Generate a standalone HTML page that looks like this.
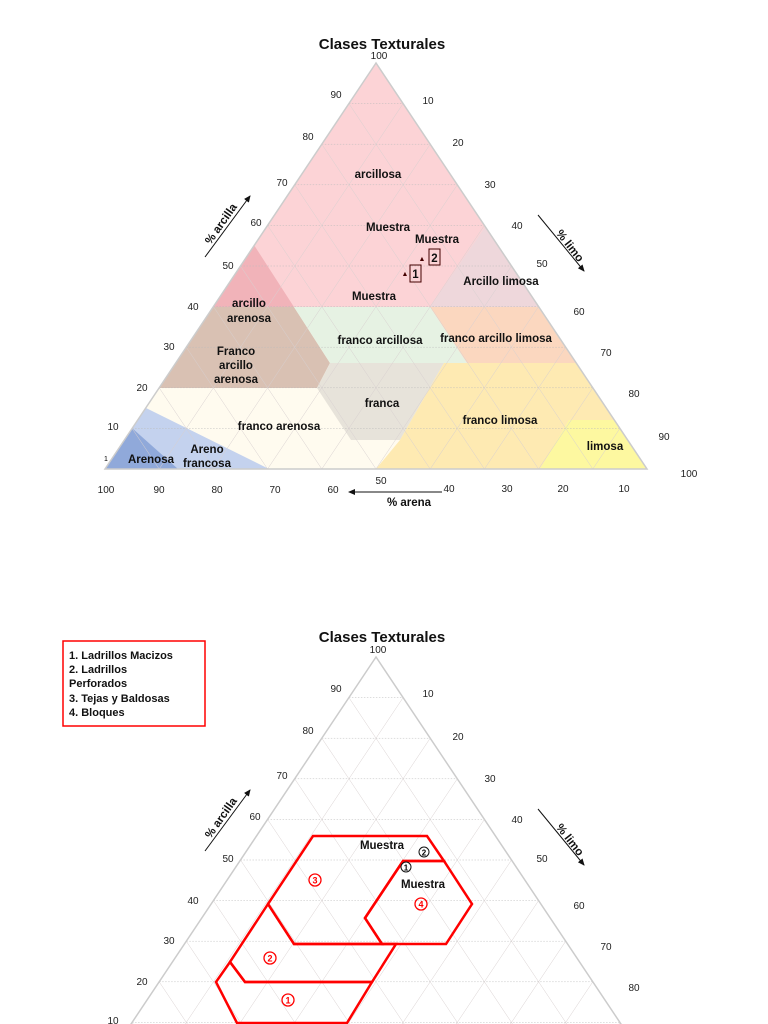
<!DOCTYPE html>
<html><head><meta charset="utf-8"><style>
html,body{margin:0;padding:0;background:#fff;width:768px;height:1024px;overflow:hidden}
svg{display:block}
text{font-family:"Liberation Sans",sans-serif}
.b{font-weight:bold;font-size:11.5px;fill:#111;text-anchor:middle}
.n{font-size:10px;fill:#222;text-anchor:middle}
.t{font-weight:bold;font-size:15px;fill:#111;text-anchor:middle}
.c{fill:none;stroke:#f00;stroke-width:1.3}
.cn{font-size:9px;fill:#f00;text-anchor:middle;font-weight:bold}
</style></head><body>
<svg width="768" height="1024" viewBox="0 0 768 1024" xmlns="http://www.w3.org/2000/svg">
<defs>
<marker id="ah" markerWidth="8" markerHeight="8" refX="6" refY="3" orient="auto"><path d="M0,0 L7,3 L0,6 z" fill="#111"/></marker>
<g id="grid" stroke="#bbb" stroke-width="0.5" fill="none">
<path stroke-dasharray="1.5,1.5" d="M132.1,428.4H619.9M159.2,387.8H592.8M186.3,347.2H565.7M213.4,306.6H538.6M240.5,266H511.5M267.6,225.4H484.4M294.7,184.8H457.3M321.8,144.2H430.2M348.9,103.6H403.1"/>
<path stroke="#d8d0d0" d="M159.2,469L132.1,428.4M213.4,469L159.2,387.8M267.6,469L186.3,347.2M321.8,469L213.4,306.6M376,469L240.5,266M430.2,469L267.6,225.4M484.4,469L294.7,184.8M538.6,469L321.8,144.2M592.8,469L348.9,103.6
M159.2,469L403.1,103.6M213.4,469L430.2,144.2M267.6,469L457.3,184.8M321.8,469L484.4,225.4M376,469L511.5,266M430.2,469L538.6,306.6M484.4,469L565.7,347.2M538.6,469L592.8,387.8M592.8,469L619.9,428.4"/>
</g>
</defs>

<!-- TOP DIAGRAM -->
<text x="382" y="49" class="t">Clases Texturales</text>
<polygon points="376,63 105,469 647,469" fill="#fffbef"/>
<polygon points="376,63 538,307 213,307" fill="#fcd3d6"/>
<polygon points="485,227 538,307 430,307" fill="#eed7db"/>
<polygon points="254,245 294,307 213,307" fill="#f1b3b9"/>
<polygon points="213,307 294,307 330,363 317,388 159,388" fill="#d9c1b3"/>
<polygon points="294,307 430,307 467,363 330,363" fill="#e6f2e3"/>
<polygon points="430,307 538,307 576,363 467,363" fill="#fbd7bf"/>
<polygon points="330,363 444,363 400,440 351,440 317,388" fill="#e7e3da"/>
<polygon points="444,363 576,363 647,469 376,469 400,440" fill="#feeab2"/>
<polygon points="569,420 615,420 647,469 540,469" fill="#fdf8a0"/>
<polygon points="146,408 269,469 105,469" fill="#c4d2ee"/>
<polygon points="132,428 178,469 105,469" fill="#90a9da"/>
<use href="#grid"/>
<polygon points="376,63 105,469 647,469" fill="none" stroke="#ccc" stroke-width="1.5"/>

<text x="378" y="178" class="b">arcillosa</text>
<text x="388" y="231" class="b">Muestra</text>
<text x="437" y="243" class="b">Muestra</text>
<text x="422" y="261" font-size="7" text-anchor="middle" fill="#400">▲</text>
<rect x="429" y="249" width="11" height="16" fill="none" stroke="#400"/>
<text x="434.5" y="262" class="b" fill="#400">2</text>
<text x="405" y="276" font-size="7" text-anchor="middle" fill="#400">▲</text>
<rect x="410" y="265" width="11" height="17" fill="none" stroke="#400"/>
<text x="415.5" y="278" class="b" fill="#400">1</text>
<text x="374" y="300" class="b">Muestra</text>
<text x="501" y="285" class="b">Arcillo limosa</text>
<text x="249" y="307" class="b">arcillo</text>
<text x="249" y="322" class="b">arenosa</text>
<text x="380" y="344" class="b">franco arcillosa</text>
<text x="496" y="342" class="b">franco arcillo limosa</text>
<text x="236" y="355" class="b">Franco</text>
<text x="236" y="369" class="b">arcillo</text>
<text x="236" y="383" class="b">arenosa</text>
<text x="382" y="407" class="b">franca</text>
<text x="500" y="424" class="b">franco limosa</text>
<text x="279" y="430" class="b">franco arenosa</text>
<text x="605" y="450" class="b">limosa</text>
<text x="207" y="453" class="b">Areno</text>
<text x="207" y="467" class="b">francosa</text>
<text x="151" y="463" class="b">Arenosa</text>
<text x="106" y="461" font-size="7" text-anchor="middle">1</text>

<g class="n">
<text x="379" y="59">100</text><text x="336" y="98">90</text><text x="308" y="140">80</text><text x="282" y="186">70</text><text x="256" y="226">60</text><text x="228" y="269">50</text><text x="193" y="310">40</text><text x="169" y="350">30</text><text x="142" y="391">20</text><text x="113" y="430">10</text>
<text x="428" y="104">10</text><text x="458" y="146">20</text><text x="490" y="188">30</text><text x="517" y="229">40</text><text x="542" y="267">50</text><text x="579" y="315">60</text><text x="606" y="356">70</text><text x="634" y="397">80</text><text x="664" y="440">90</text><text x="689" y="477">100</text>
<text x="106" y="493">100</text><text x="159" y="493">90</text><text x="217" y="493">80</text><text x="275" y="493">70</text><text x="333" y="493">60</text><text x="381" y="484">50</text><text x="449" y="492">40</text><text x="507" y="492">30</text><text x="563" y="492">20</text><text x="624" y="492">10</text>
</g>
<line x1="442" y1="492" x2="349" y2="492" stroke="#111" stroke-width="1" marker-end="url(#ah)"/>
<text x="409" y="506" class="b" font-size="12">% arena</text>
<line x1="205" y1="257" x2="250" y2="196" stroke="#111" stroke-width="1" marker-end="url(#ah)"/>
<text x="224" y="226" class="b" font-size="12" transform="rotate(-55 224 226)">% arcilla</text>
<line x1="538" y1="215" x2="584" y2="271" stroke="#111" stroke-width="1" marker-end="url(#ah)"/>
<text x="567" y="248" class="b" font-size="12" transform="rotate(52 567 248)">% limo</text>

<!-- BOTTOM DIAGRAM -->
<text x="382" y="642" class="t">Clases Texturales</text>
<rect x="63" y="641" width="142" height="85" fill="#fff" stroke="#f00" stroke-width="1.5"/>
<g font-weight="bold" font-size="11" fill="#111">
<text x="69" y="659">1. Ladrillos Macizos</text>
<text x="69" y="673">2. Ladrillos</text>
<text x="69" y="687">Perforados</text>
<text x="69" y="702">3. Tejas y Baldosas</text>
<text x="69" y="716">4. Bloques</text>
</g>
<g transform="translate(0,594)">
<use href="#grid"/>
<polygon points="376,63 105,469 647,469" fill="none" stroke="#ccc" stroke-width="1.5"/>
</g>
<g class="n">
<text x="378" y="653">100</text><text x="336" y="692">90</text><text x="308" y="734">80</text><text x="282" y="779">70</text><text x="255" y="820">60</text><text x="228" y="862">50</text><text x="193" y="904">40</text><text x="169" y="944">30</text><text x="142" y="985">20</text><text x="113" y="1024">10</text>
<text x="428" y="697">10</text><text x="458" y="740">20</text><text x="490" y="782">30</text><text x="517" y="823">40</text><text x="542" y="862">50</text><text x="579" y="909">60</text><text x="606" y="950">70</text><text x="634" y="991">80</text>
</g>
<line x1="205" y1="851" x2="250" y2="790" stroke="#111" stroke-width="1" marker-end="url(#ah)"/>
<text x="224" y="820" class="b" font-size="12" transform="rotate(-55 224 820)">% arcilla</text>
<line x1="538" y1="809" x2="584" y2="865" stroke="#111" stroke-width="1" marker-end="url(#ah)"/>
<text x="567" y="842" class="b" font-size="12" transform="rotate(52 567 842)">% limo</text>

<g stroke="#f00" stroke-width="2.5" fill="none" stroke-linejoin="miter">
<polygon points="313,836 427,836 444,861 403,861 365,918 382,944 294,944 268,904"/>
<polygon points="403,861 444,861 472,904 446,944 382,944 365,918"/>
<polygon points="268,904 294,944 396,944 372,982 245,982 230,962"/>
<polygon points="230,962 245,982 372,982 347,1023 237,1023 216,982"/>
</g>
<text x="382" y="849" class="b">Muestra</text>
<text x="423" y="888" class="b">Muestra</text>
<circle cx="424" cy="852" r="5" fill="none" stroke="#111"/><text x="424" y="855.5" font-size="8" font-weight="bold" text-anchor="middle">2</text>
<circle cx="406" cy="867" r="5" fill="none" stroke="#111"/><text x="406" y="870.5" font-size="8" font-weight="bold" text-anchor="middle">1</text>
<circle cx="315" cy="880" r="6" class="c"/><text x="315" y="883.5" class="cn">3</text>
<circle cx="421" cy="904" r="6" class="c"/><text x="421" y="907.5" class="cn">4</text>
<circle cx="270" cy="958" r="6" class="c"/><text x="270" y="961.5" class="cn">2</text>
<circle cx="288" cy="1000" r="6" class="c"/><text x="288" y="1003.5" class="cn">1</text>
</svg>
</body></html>
